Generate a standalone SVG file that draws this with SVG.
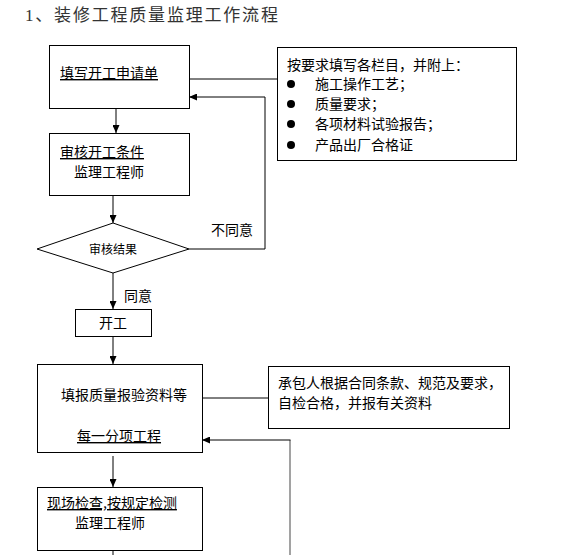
<svg xmlns="http://www.w3.org/2000/svg" width="587" height="555" viewBox="0 0 587 555">
<style>
.box{fill:#fff;stroke:#000;stroke-width:1}
.t{font-family:"Noto Sans CJK SC","Noto Sans",sans-serif;font-size:14px;fill:#000}
.s{font-size:12px}
.u{text-decoration:underline}
.ln{fill:none;stroke:#000;stroke-width:1}
.title{font-family:"Liberation Serif","Noto Sans CJK SC",serif;font-size:17px;fill:#333;letter-spacing:1.8px}
</style>
<defs>
<marker id="ah" markerWidth="8" markerHeight="7" refX="8" refY="3.5" orient="auto" markerUnits="userSpaceOnUse">
<path d="M0,0 L8,3.5 L0,7 z" fill="#000"/>
</marker>
</defs>
<rect width="587" height="555" fill="#fff"/>
<text class="title" x="25" y="21">1、装修工程质量监理工作流程</text>

<g id="connectors">
<line class="ln" x1="116" y1="108" x2="116" y2="133" marker-end="url(#ah)"/>
<line class="ln" x1="113" y1="195" x2="113" y2="223" marker-end="url(#ah)"/>
<line class="ln" x1="113" y1="273" x2="113" y2="309" marker-end="url(#ah)"/>
<line class="ln" x1="113" y1="337" x2="113" y2="364" marker-end="url(#ah)"/>
<line class="ln" x1="113" y1="456" x2="113" y2="487" marker-end="url(#ah)"/>
<line class="ln" x1="113" y1="550" x2="113" y2="555"/>
<line class="ln" x1="189" y1="79" x2="277" y2="79"/>
<polyline class="ln" points="189,249 265,249 265,97 189,97" marker-end="url(#ah)"/>
<line class="ln" x1="202" y1="398" x2="268" y2="398"/>
<line class="ln" x1="290" y1="555" x2="290" y2="440" style="stroke:#707070;stroke-width:1.3"/>
<polyline class="ln" points="290.5,440 202,440" marker-end="url(#ah)"/>
<text class="t" x="211" y="235">不同意</text>
<text class="t" x="124" y="301">同意</text>
</g>

<g id="n1">
<rect class="box" x="49.5" y="45.5" width="140" height="63"/>
<text class="t u" x="60" y="78">填写开工申请单</text>
</g>

<g id="n1note">
<rect class="box" x="277.5" y="47.5" width="239" height="113"/>
<text class="t" x="287" y="70">按要求填写各栏目，并附上：</text>
<circle cx="291" cy="84" r="4" fill="#000"/>
<text class="t" x="315" y="89">施工操作工艺；</text>
<circle cx="291" cy="104" r="4" fill="#000"/>
<text class="t" x="315" y="109">质量要求；</text>
<circle cx="291" cy="124" r="4" fill="#000"/>
<text class="t" x="315" y="129">各项材料试验报告；</text>
<circle cx="291" cy="145" r="4" fill="#000"/>
<text class="t" x="315" y="150">产品出厂合格证</text>
</g>

<g id="n2">
<rect class="box" x="49.5" y="133.5" width="140" height="62"/>
<text class="t u" x="60" y="157">审核开工条件</text>
<text class="t" x="74" y="177">监理工程师</text>
</g>

<g id="n3">
<polygon class="box" points="113,223 189,249 113,273 37,249"/>
<text class="t s" x="113" y="254" text-anchor="middle">审核结果</text>
</g>

<g id="n4">
<rect class="box" x="75.5" y="309.5" width="76" height="27"/>
<text class="t" x="113" y="328" text-anchor="middle">开工</text>
</g>

<g id="n5">
<rect class="box" x="37.5" y="364.5" width="165" height="88"/>
<text class="t" x="61" y="400">填报质量报验资料等</text>
<text class="t u" x="77" y="441">每一分项工程</text>
</g>

<g id="n5note">
<rect class="box" x="268.5" y="366.5" width="241" height="62"/>
<text class="t" x="278" y="388">承包人根据合同条款、规范及要求，</text>
<text class="t" x="278" y="408">自检合格，并报有关资料</text>
</g>

<g id="n6">
<rect class="box" x="37.5" y="487.5" width="165" height="63"/>
<text class="t u" x="47" y="508">现场检查,按规定检测</text>
<text class="t" x="75" y="528">监理工程师</text>
</g>
</svg>
